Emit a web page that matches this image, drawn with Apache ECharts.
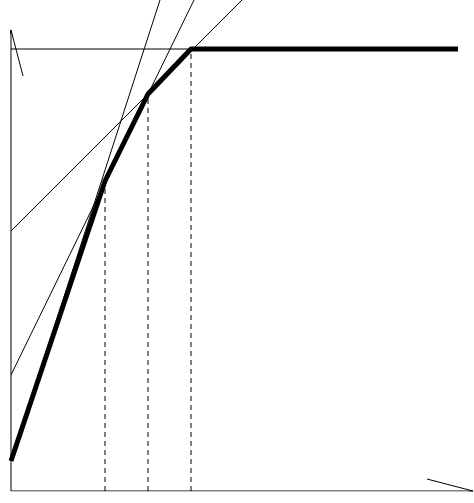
<!DOCTYPE html>
<html><head><meta charset="utf-8">
<script src="https://cdn.jsdelivr.net/npm/echarts@6/dist/echarts.min.js"></script>
<style>html,body{margin:0;padding:0;background:#fff}#c{width:474px;height:503px}</style>
</head><body><div id="c"></div>
<script>
// coordinates: x from y-axis, y up from x-axis
const thickCurve = [[0,30],[94,310],[137,397],[180,442],[447,442]];
const tangentA = [[0,30],[149,491]];
const tangentB = [[0,116],[183,491]];
const tangentC = [[0,260],[231,491]];
const capLine = [[0,442],[180,442]];
const kinksX = [94,137,180];
const kinksY = [310,397,442];
const xAxisLine = [[0,0],[462,0]];
const yAxisLine = [[0,0],[0,461]];
const xArrow = [[416,12],[462,0],[416,-12]];
const yArrow = [[-11,418],[0,461],[12,415]];
const tickLabels = ['l','l','l'];
const tickLabelX = [82,157,181];

const thin = (d,w)=>({type:'line',data:d,symbol:'none',silent:true,lineStyle:{color:'#000',width:w||1},z:2});
const series = [
  thin(xAxisLine),thin(yAxisLine),thin(xArrow),thin(yArrow),
  thin(tangentA),thin(tangentB),thin(tangentC),thin(capLine),
  {type:'line',data:thickCurve,symbol:'none',lineStyle:{color:'#000',width:5},z:5}
];
kinksX.forEach((x,i)=>series.push({type:'line',data:[[x,0],[x,kinksY[i]]],symbol:'none',
  lineStyle:{color:'#000',width:1,type:[5,4]},z:1}));
series.push({type:'scatter',data:tickLabelX.map((x,i)=>[x,-8,tickLabels[i]]),symbolSize:0,
  label:{show:true,position:'bottom',distance:0,formatter:p=>p.data[2],fontFamily:'Liberation Serif',fontSize:18,color:'#000'}});
series.push({type:'scatter',data:[[-8,483,'y']],symbolSize:0,
  label:{show:true,position:'inside',formatter:p=>p.data[2],fontFamily:'Liberation Serif',fontStyle:'italic',fontSize:18,color:'#000'}});

const chart = echarts.init(document.getElementById('c'));
chart.setOption({
  animation:false,
  grid:{left:11,right:0,top:0,bottom:12},
  xAxis:{type:'value',min:0,max:463,show:false},
  yAxis:{type:'value',min:0,max:491,show:false},
  series
});
</script></body></html>
